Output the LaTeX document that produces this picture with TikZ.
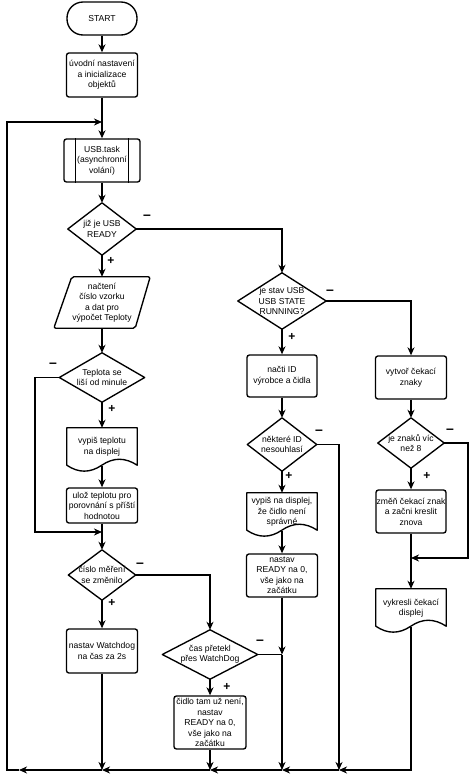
\documentclass[tikz,border=0pt]{standalone}
\usepackage{fontspec}
\setmainfont{Liberation Sans}
\usetikzlibrary{calc,arrows.meta}
\begin{document}
\begin{tikzpicture}[x=1pt,y=-1pt,
  every node/.style={font=\fontsize{8.6}{10.5}\selectfont, align=center, inner sep=0pt},
  lw/.style={line width=1.35pt},
  proc/.style={draw, lw, rounded corners=2.5pt},
  term/.style={draw, lw, rounded corners=16pt, minimum width=70pt, minimum height=33pt},
  shp/.style={draw=none},
  conn/.style={lw, -{Stealth[length=8pt,width=7pt,inset=2.5pt]}},
  plain/.style={lw},
  plus/.style={font=\fontsize{12}{12}\selectfont\bfseries},
  minus/.style={font=\fontsize{14}{14}\selectfont\bfseries}]
\useasboundingbox (0,0) rectangle (474,777);

% left column
\node[term] (start) at (102,18.5) {START};
\node[proc, minimum width=71pt, minimum height=44pt] (init) at (102,75) {úvodní nastavení\\a inicializace\\objektů};
\node[proc, minimum width=76pt, minimum height=43pt] (usb) at (102,160.5) {USB.task\\(asynchronní\\volání)};
\node[shp, minimum width=68pt, minimum height=52pt] (d1) at (102,229) {již je USB\\READY};
\node[shp, minimum width=80pt, minimum height=51pt] (para) at (102,302.5) {načtení\\číslo vzorku\\a dat pro\\výpočet Teploty};
\node[shp, minimum width=85pt, minimum height=49pt] (d2) at (102,377.5) {Teplota se\\liší od minule};
\node[shp, minimum width=70pt, minimum height=38pt] (doc1) at (102,447) {vypiš teplotu\\na displej};
\node[proc, minimum width=71pt, minimum height=35pt] (save) at (102,505.5) {ulož teplotu pro\\porovnání s příští\\hodnotou};
\node[shp, minimum width=67pt, minimum height=50pt] (d3) at (102,575) {číslo měření\\se změnilo};
\node[proc, minimum width=71pt, minimum height=44pt] (wd) at (102,651) {nastav Watchdog\\na čas za 2s};
\node[shp, minimum width=95pt, minimum height=49pt] (d4) at (210,654.5) {čas přetekl\\přes WatchDog};
\node[proc, minimum width=72pt, minimum height=53pt] (cidlo) at (210,722.5) {čidlo tam už není,\\nastav\\READY na 0,\\vše jako na\\začátku};
% middle column
\node[shp, minimum width=88pt, minimum height=56pt] (d5) at (282,301) {je stav USB\\USB STATE\\RUNNING?};
\node[proc, minimum width=70pt, minimum height=42pt] (readid) at (282,376) {načti ID\\výrobce a čidla};
\node[shp, minimum width=69pt, minimum height=53pt] (d6) at (282,444.5) {některé ID\\nesouhlasí};
\node[shp, minimum width=70pt, minimum height=38pt] (doc2) at (282,512) {vypiš na displej,\\že čidlo není\\správné};
\node[proc, minimum width=71pt, minimum height=43pt] (ready) at (282,575.5) {nastav\\READY na 0,\\vše jako na\\začátku};
% right column
\node[proc, minimum width=71pt, minimum height=43pt] (wait) at (411,377.5) {vytvoř čekací\\znaky};
\node[shp, minimum width=66pt, minimum height=50pt] (d7) at (411,443) {je znaků víc\\než 8};
\node[proc, minimum width=70pt, minimum height=43pt] (change) at (411,511.5) {změň čekací znak\\a začni kreslit\\znova};
\node[shp, minimum width=70pt, minimum height=38pt] (doc3) at (411,608) {vykresli čekací\\displej};

% outlines
\draw[lw] ([xshift=12pt]usb.north west) -- ([xshift=12pt]usb.south west);
\draw[lw] ([xshift=-12pt]usb.north east) -- ([xshift=-12pt]usb.south east);
\foreach \n in {d1,d2,d3,d4,d5,d6,d7}
  \draw[lw, line join=round] (\n.north) -- (\n.east) -- (\n.south) -- (\n.west) -- cycle;
\draw[lw, rounded corners=2pt] ($(para.north west)+(10,0)$) -- ($(para.north east)+(8,0)$) -- ($(para.south east)+(-7,0)$) -- ($(para.south west)+(-8,0)$) -- cycle;
\foreach \n in {doc1,doc2,doc3}
  \draw[lw, line join=round] (\n.north west) -- (\n.north east) -- ($(\n.north east)+(0,37.4)$)
    .. controls ($(\n.north west)+(58.33,29.48)$) and ($(\n.north west)+(46.67,29.48)$) .. ($(\n.north west)+(35,37.4)$)
    .. controls ($(\n.north west)+(23.33,45.32)$) and ($(\n.north west)+(11.67,45.32)$) .. ($(\n.north west)+(0,37.4)$) -- cycle;

% junction coordinates
\coordinate (loopin) at (102,122);
\coordinate (lt) at (7,122);
\coordinate (lb) at (7,770);
\coordinate (b0) at (19,770);
\coordinate (b1) at (102,770);
\coordinate (b2) at (210,770);
\coordinate (b3) at (282,770);
\coordinate (b4) at (339,770);
\coordinate (b5) at (411,770);
\coordinate (j2) at (102,532);
\coordinate (k2) at (35,532);
\coordinate (j4) at (282,654.5);
\coordinate (j7) at (411,558);
\coordinate (k7a) at (468,443);
\coordinate (k7b) at (468,558);

% connectors
\draw[conn] (start) -- (init);
\draw[conn] (init) -- (usb);
\draw[conn] (usb) -- (d1);
\draw[conn] (d1.south) -- (para.north);
\draw[conn] (d1.east) -| (d5.north);
\draw[conn] (para.south) -- (d2.north);
\draw[conn] (d2.west) -| (k2) -- (j2);
\draw[conn] (d2.south) -- (doc1.north);
\draw[conn] (doc1.south) -- (save.north);
\draw[conn] (save.south) -- (d3.north);
\draw[conn] (d3.south) -- (wd.north);
\draw[conn] (d3.east) -| (d4.north);
\draw[conn] (wd.south) -- (b1);
\draw[conn] (d4.south) -- (cidlo.north);
\draw[plain] (d4.east) -- (j4);
\draw[conn] (cidlo.south) -- (b2);
\draw[conn] (d5.south) -- (readid.north);
\draw[conn] (d5.east) -| (wait.north);
\draw[conn] (readid.south) -- (d6.north);
\draw[conn] (d6.south) -- (doc2.north);
\draw[conn] (d6.east) -| (b4);
\draw[conn] (doc2.south) -- (ready.north);
\draw[conn] (ready.south) -- (j4);
\draw[conn] (j4) -- (b3);
\draw[conn] (wait.south) -- (d7.north);
\draw[conn] (d7.south) -- (change.north);
\draw[conn] (d7.east) -- (k7a) -- (k7b) -- (j7);
\draw[conn] (change.south) -- (doc3.north);
\draw[conn] (doc3.south) -- (b5) -- (b4);
\draw[conn] (b4) -- (b3);
\draw[conn] (b3) -- (b2);
\draw[conn] (b2) -- (b1);
\draw[conn] (b1) -- (b0);
\draw[conn] (b0) -- (lb) -- (lt) -- (loopin);

% branch labels
\node[plus] (p1) at (111,261) {+};
\node[plus] (p2) at (112,409) {+};
\node[plus] (p3) at (112,603) {+};
\node[plus] (p4) at (227,687) {+};
\node[plus] (p5) at (292,337) {+};
\node[plus] (p6) at (289,476) {+};
\node[plus] (p7) at (427,476) {+};
\node[minus] (m1) at (147,217) {–};
\node[minus] (m2) at (53,365) {–};
\node[minus] (m3) at (140,565) {–};
\node[minus] (m4) at (260,642) {–};
\node[minus] (m5) at (330,292) {–};
\node[minus] (m6) at (319,432) {–};
\node[minus] (m7) at (450,431) {–};
\end{tikzpicture}
\end{document}
